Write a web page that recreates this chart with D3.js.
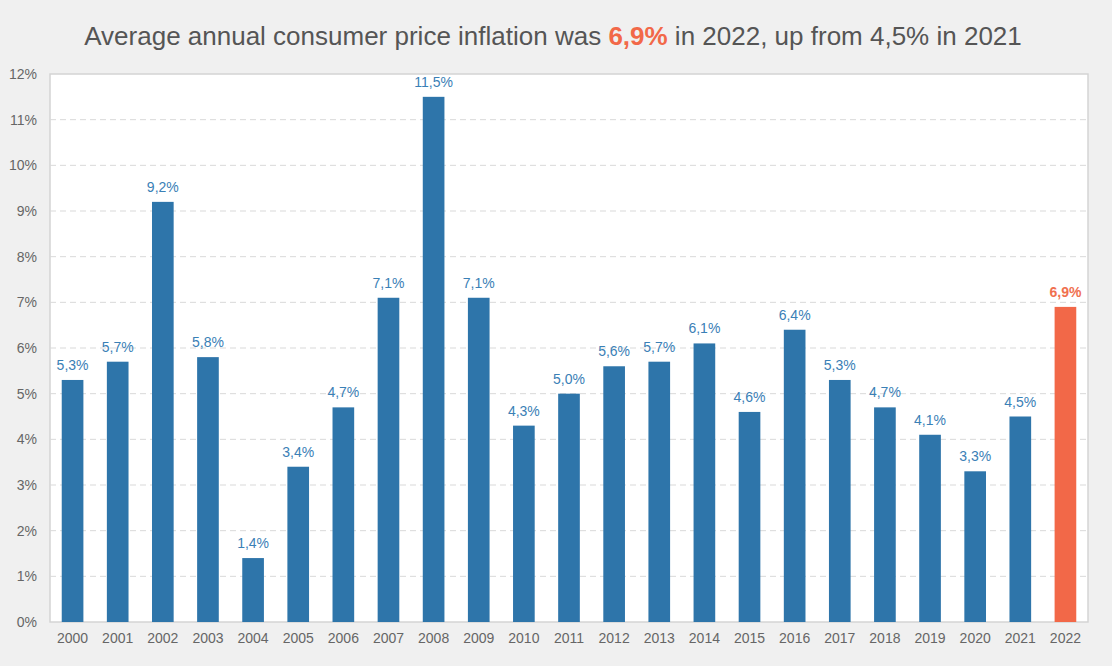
<!DOCTYPE html>
<html>
<head>
<meta charset="utf-8">
<script src="https://cdn.jsdelivr.net/npm/d3@7"></script>
<style>
  body { margin: 0; background: #f0f0f0; font-family: "Liberation Sans", Arial, sans-serif; }
  .grid line { stroke: #d9d9d9; stroke-dasharray: 6,4; }
  .axis text { fill: #666; font-size: 14px; }
</style>
</head>
<body>
<div id="chart"></div>
<script>
// years and values
var years = ["2000","2001","2002","2003","2004","2005","2006","2007","2008","2009","2010",
             "2011","2012","2013","2014","2015","2016","2017","2018","2019","2020","2021","2022"];
var inflation = [5.3, 5.7, 9.2, 5.8, 1.4, 3.4, 4.7, 7.1, 11.5, 7.1, 4.3,
                 5.0, 5.6, 5.7, 6.1, 4.6, 6.4, 5.3, 4.7, 4.1, 3.3, 4.5, 6.9];
var yTicks = [0, 1, 2, 3, 4, 5, 6, 7, 8, 9, 10, 11, 12];
var highlightYear = "2022";

var W = 1112, H = 666;
var margin = { top: 74, right: 24, bottom: 44, left: 50 },
    width = W - margin.left - margin.right,
    height = H - margin.top - margin.bottom;

var blue = "#2e75aa", blueText = "#3a80b6",
    orange = "#f26848", orangeText = "#f0704f";

var fmt = function(v) { return v.toFixed(1).replace(".", ",") + "%"; };

var svg = d3.select("#chart").append("svg")
    .attr("width", W)
    .attr("height", H);

// title
var title = svg.append("text")
    .attr("x", 553)
    .attr("y", 45)
    .attr("text-anchor", "middle")
    .style("font-size", "26px")
    .style("fill", "#555");
title.append("tspan").text("Average annual consumer price inflation was ");
title.append("tspan").text("6,9%").style("fill", orange).style("font-weight", "bold");
title.append("tspan").text(" in 2022, up from 4,5% in 2021");

var g = svg.append("g")
    .attr("transform", "translate(" + margin.left + "," + margin.top + ")");

var x = d3.scaleBand()
    .domain(years)
    .range([0, width])
    .paddingInner(0.52)
    .paddingOuter(0.26);

var y = d3.scaleLinear()
    .domain([0, 12])
    .range([height, 0]);

// plot background
g.append("rect")
    .attr("width", width)
    .attr("height", height)
    .style("fill", "#fff")
    .style("stroke", "#d4d4d4")
    .style("stroke-width", 1.5);

// gridlines
g.append("g")
    .attr("class", "grid")
    .selectAll("line")
    .data(yTicks.slice(1, -1))
    .enter().append("line")
    .attr("x1", 0)
    .attr("x2", width)
    .attr("y1", d => y(d))
    .attr("y2", d => y(d));

// y axis
var yAxis = d3.axisLeft(y).tickValues(yTicks).tickFormat(d => d + "%").tickSize(0).tickPadding(13);
g.append("g")
    .attr("class", "axis")
    .call(yAxis)
    .call(s => s.select(".domain").remove());

// x axis
var xAxis = d3.axisBottom(x).tickSize(0).tickPadding(11);
g.append("g")
    .attr("class", "axis")
    .attr("transform", "translate(0," + height + ")")
    .call(xAxis)
    .call(s => s.select(".domain").remove());

// bars
g.selectAll(".bar")
    .data(inflation)
    .enter().append("rect")
    .attr("class", "bar")
    .attr("x", (d, i) => x(years[i]))
    .attr("width", x.bandwidth())
    .attr("y", d => y(d))
    .attr("height", d => height - y(d))
    .style("fill", (d, i) => years[i] === highlightYear ? orange : blue);

// value labels
g.selectAll(".label")
    .data(inflation)
    .enter().append("text")
    .attr("class", "label")
    .attr("x", (d, i) => x(years[i]) + x.bandwidth() / 2)
    .attr("y", d => y(d) - 10)
    .attr("text-anchor", "middle")
    .style("font-size", "14px")
    .style("font-weight", (d, i) => years[i] === highlightYear ? "bold" : "normal")
    .style("fill", (d, i) => years[i] === highlightYear ? orangeText : blueText)
    .text(d => fmt(d));
</script>
</body>
</html>
